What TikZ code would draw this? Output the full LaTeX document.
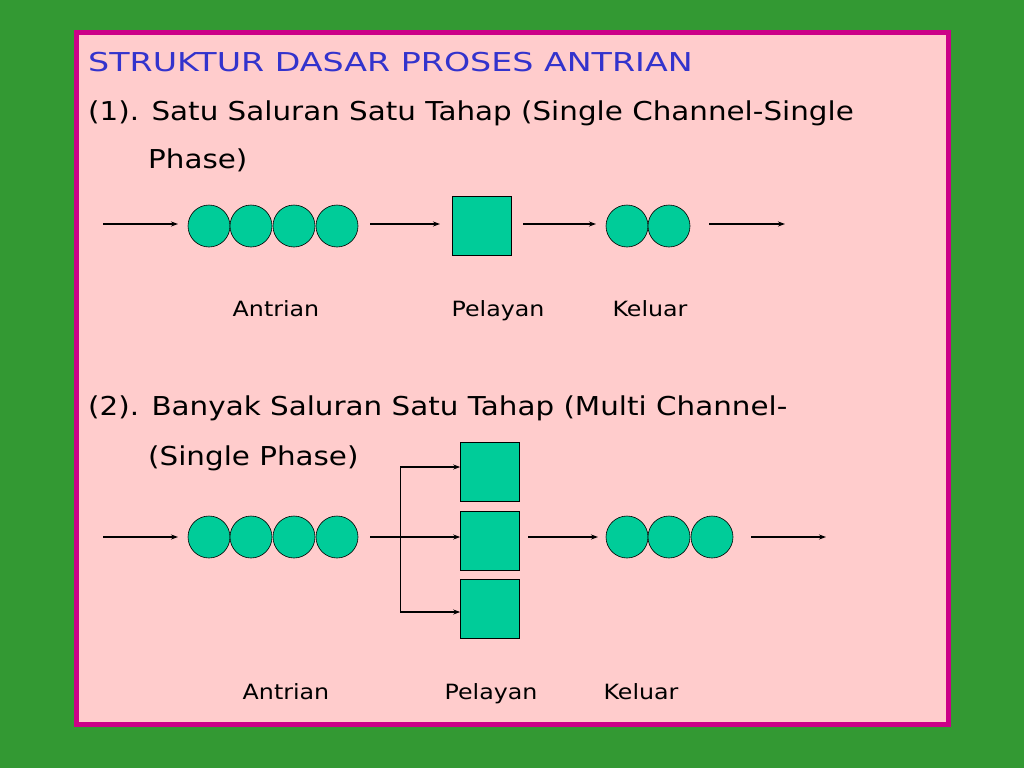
\documentclass[tikz,border=0pt]{standalone}
\usepackage{fontspec}
\setmainfont{DejaVu Sans}[FakeStretch=1.13]
\newfontfamily\ttlfont{DejaVu Sans}[FakeStretch=1.28]
\usetikzlibrary{arrows.meta}
\definecolor{bg}{HTML}{339933}
\definecolor{pinkf}{HTML}{FFCCCC}
\definecolor{mag}{HTML}{CC0088}
\definecolor{teal}{HTML}{00CC99}
\definecolor{ttl}{HTML}{3333CC}
\begin{document}
\begin{tikzpicture}[x=1pt,y=-1pt,
  ar/.style={-{Stealth[length=7pt,width=5pt]},line width=1.1pt},
  cust/.style={circle,draw=black,fill=teal,minimum size=42pt,inner sep=0pt,line width=0.6pt},
  srv/.style={rectangle,draw=black,fill=teal,minimum size=59pt,inner sep=0pt,line width=0.6pt},
  hd/.style={anchor=base west,inner sep=0pt,font=\fontsize{26}{30}\selectfont},
  lb/.style={anchor=base,font=\fontsize{21}{24}\selectfont}]
\fill[bg] (0,0) rectangle (1024,768);
\draw[mag,fill=pinkf,line width=5pt] (76,33) rectangle (948,724);
\node[hd,text=ttl,font=\ttlfont\fontsize{26}{30}\selectfont] (t) at (88,71) {STRUKTUR DASAR PROSES ANTRIAN};
\node[hd] (h1) at (88,120) {(1). Satu Saluran Satu Tahap (Single Channel-Single};
\node[hd] (h1b) at (148,168) {Phase)};
% row 1
\coordinate (s1) at (103,224);
\foreach \i/\x in {1/209,2/251,3/294,4/337} \node[cust] (a\i) at (\x,226) {};
\node[srv] (p) at (482,226) {};
\foreach \i/\x in {1/627,2/669} \node[cust] (k\i) at (\x,226) {};
\coordinate (e1) at (785,224);
\coordinate (q1) at (370,224);\coordinate (q2) at (440,224);
\coordinate (r1) at (523,224);\coordinate (r2) at (596,224);
\coordinate (f1) at (709,224);
\draw[ar] (s1) -- (178,224);
\draw[ar] (q1) -- (q2);
\draw[ar] (r1) -- (r2);
\draw[ar] (f1) -- (e1);
\node[lb] (l1) at (276,316) {Antrian};
\node[lb] (l2) at (498,316) {Pelayan};
\node[lb] (l3) at (650,316) {Keluar};
% part 2
\node[hd] (h2) at (88,415) {(2). Banyak Saluran Satu Tahap (Multi Channel-};
\node[hd] (h2b) at (148,465) {(Single Phase)};
\foreach \i/\x in {1/209,2/251,3/294,4/337} \node[cust] (b\i) at (\x,537) {};
\node[srv] (p1) at (490,472) {};
\node[srv] (p2) at (490,541) {};
\node[srv] (p3) at (490,609) {};
\foreach \i/\x in {1/627,2/669,3/712} \node[cust] (m\i) at (\x,537) {};
\coordinate (s2) at (103,537);
\draw[ar] (s2) -- (178,537);
\coordinate (u1) at (370,537);
\coordinate (vt) at (400,467);\coordinate (vb) at (400,612);
\draw[ar] (u1) -- (p2.west|-u1);
\draw[line width=1pt] (vt) -- (vb);
\draw[ar] (vt) -- (p1.west|-vt);
\draw[ar] (vb) -- (p3.west|-vb);
\coordinate (w1) at (528,537);\coordinate (w2) at (598,537);
\draw[ar] (w1) -- (w2);
\coordinate (x1) at (751,537);\coordinate (x2) at (826,537);
\draw[ar] (x1) -- (x2);
\node[lb] (n1) at (286,699) {Antrian};
\node[lb] (n2) at (491,699) {Pelayan};
\node[lb] (n3) at (641,699) {Keluar};
\end{tikzpicture}
\end{document}
